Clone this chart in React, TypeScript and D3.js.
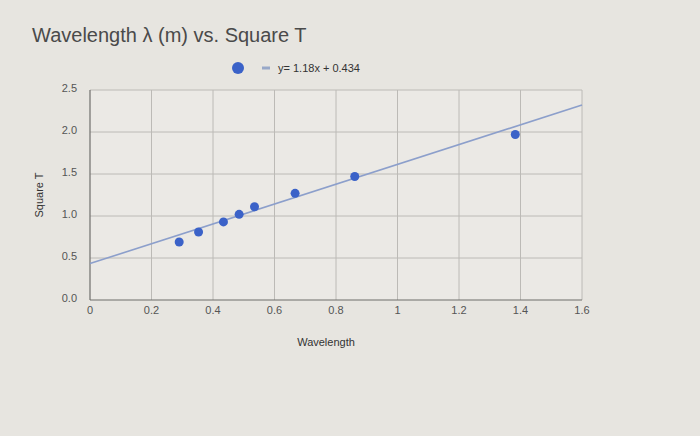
import React, { useEffect, useRef } from 'react';
import * as d3 from 'd3';

// values
const wavelength = [0.29, 0.353, 0.434, 0.485, 0.535, 0.667, 0.861, 1.383];
const squareT = [0.69, 0.81, 0.93, 1.02, 1.11, 1.27, 1.47, 1.97];
const xTicks = [0, 0.2, 0.4, 0.6, 0.8, 1, 1.2, 1.4, 1.6];
const yTicks = [0, 0.5, 1.0, 1.5, 2.0, 2.5];
const slope = 1.18;
const intercept = 0.434;
const trendLabel = 'y= 1.18x + 0.434';

const App: React.FC = () => {
  const svgRef = useRef<SVGSVGElement | null>(null);

  useEffect(() => {
    if (!svgRef.current) return;
    const svg = d3.select(svgRef.current);
    const width = 700;
    const height = 436;
    const margin = { top: 90, right: 118, bottom: 136, left: 90 };

    svg.selectAll('*').remove();

    svg.append('rect')
      .attr('width', width)
      .attr('height', height)
      .attr('fill', '#e7e5e0');

    const xScale = d3.scaleLinear()
      .domain([0, 1.6])
      .range([margin.left, width - margin.right]);

    const yScale = d3.scaleLinear()
      .domain([0, 2.5])
      .range([height - margin.bottom, margin.top]);

    // plot area
    svg.append('rect')
      .attr('x', xScale(0))
      .attr('y', yScale(2.5))
      .attr('width', xScale(1.6) - xScale(0))
      .attr('height', yScale(0) - yScale(2.5))
      .attr('fill', '#ebe9e5');

    // grid
    svg.append('g')
      .selectAll('line')
      .data(xTicks.slice(1))
      .join('line')
      .attr('x1', d => xScale(d))
      .attr('x2', d => xScale(d))
      .attr('y1', yScale(0))
      .attr('y2', yScale(2.5))
      .attr('stroke', '#bcbab6')
      .attr('stroke-width', 1);

    svg.append('g')
      .selectAll('line')
      .data(yTicks.slice(1))
      .join('line')
      .attr('x1', xScale(0))
      .attr('x2', xScale(1.6))
      .attr('y1', d => yScale(d))
      .attr('y2', d => yScale(d))
      .attr('stroke', '#bcbab6')
      .attr('stroke-width', 1);

    // axes lines
    svg.append('line')
      .attr('x1', xScale(0)).attr('x2', xScale(1.6))
      .attr('y1', yScale(0)).attr('y2', yScale(0))
      .attr('stroke', '#6f6e6b').attr('stroke-width', 1.2);
    svg.append('line')
      .attr('x1', xScale(0)).attr('x2', xScale(0))
      .attr('y1', yScale(0)).attr('y2', yScale(2.5))
      .attr('stroke', '#6f6e6b').attr('stroke-width', 1.2);

    // tick labels
    svg.append('g')
      .selectAll('text')
      .data(xTicks)
      .join('text')
      .attr('x', d => xScale(d))
      .attr('y', yScale(0) + 14)
      .attr('text-anchor', 'middle')
      .style('font', '11px Arial, "Liberation Sans", sans-serif')
      .attr('fill', '#555')
      .text(d => String(d));

    svg.append('g')
      .selectAll('text')
      .data(yTicks)
      .join('text')
      .attr('x', xScale(0) - 13)
      .attr('y', d => yScale(d) + 2)
      .attr('text-anchor', 'end')
      .style('font', '11px Arial, "Liberation Sans", sans-serif')
      .attr('fill', '#555')
      .text(d => d.toFixed(1));

    // trend line
    const line = d3.line<number>()
      .x(d => xScale(d))
      .y(d => yScale(slope * d + intercept));

    svg.append('path')
      .datum([0, 1.6])
      .attr('fill', 'none')
      .attr('stroke', '#8c9fcb')
      .attr('stroke-width', 1.6)
      .attr('d', line);

    // points
    svg.append('g')
      .selectAll('circle')
      .data(wavelength.map((w, i) => [w, squareT[i]]))
      .join('circle')
      .attr('cx', d => xScale(d[0]))
      .attr('cy', d => yScale(d[1]))
      .attr('r', 4.5)
      .attr('fill', '#3b62c8');

    // title
    svg.append('text')
      .attr('x', 32)
      .attr('y', 42)
      .style('font', '20px Arial, "Liberation Sans", sans-serif')
      .attr('fill', '#4a4a4a')
      .text('Wavelength λ (m) vs. Square T');

    // legend
    svg.append('circle')
      .attr('cx', 238)
      .attr('cy', 68)
      .attr('r', 6)
      .attr('fill', '#3b62c8');
    svg.append('line')
      .attr('x1', 262).attr('x2', 270)
      .attr('y1', 68).attr('y2', 68)
      .attr('stroke', '#98a8c8').attr('stroke-width', 3);
    svg.append('text')
      .attr('x', 278)
      .attr('y', 72)
      .style('font', '11px Arial, "Liberation Sans", sans-serif')
      .attr('fill', '#333')
      .text(trendLabel);

    // axis titles
    svg.append('text')
      .attr('x', (xScale(0) + xScale(1.6)) / 2 - 10)
      .attr('y', yScale(0) + 46)
      .attr('text-anchor', 'middle')
      .style('font', '11px Arial, "Liberation Sans", sans-serif')
      .attr('fill', '#333')
      .text('Wavelength');

    svg.append('text')
      .attr('transform', `translate(43,${(yScale(0) + yScale(2.5)) / 2}) rotate(-90)`)
      .attr('text-anchor', 'middle')
      .style('font', '11px Arial, "Liberation Sans", sans-serif')
      .attr('fill', '#333')
      .text('Square T');
  }, []);

  return (
    <svg
      ref={svgRef}
      width={700}
      height={436}
      style={{ position: 'absolute', left: 0, top: 0, display: 'block' }}
    ></svg>
  );
};

export default App;
